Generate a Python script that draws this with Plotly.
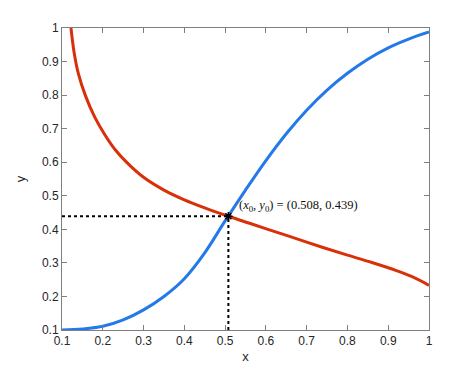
import plotly.graph_objects as go

# Blue curve (increasing)
blue_x = [0.1, 0.15, 0.2, 0.25, 0.3, 0.35, 0.4, 0.45, 0.5, 0.55, 0.6, 0.65, 0.7, 0.75, 0.8, 0.85, 0.9, 0.95, 1.0]
blue_y = [0.1, 0.103, 0.111, 0.13, 0.16, 0.2, 0.253, 0.33, 0.425, 0.517, 0.605, 0.685, 0.755, 0.815, 0.865, 0.907, 0.941, 0.967, 0.988]

# Red curve (decreasing)
red_x = [0.122, 0.13, 0.14, 0.157, 0.18, 0.205, 0.23, 0.26, 0.3, 0.35, 0.4, 0.45, 0.508,
         0.56, 0.62, 0.68, 0.74, 0.8, 0.86, 0.92, 0.96, 1.0]
red_y = [1.0, 0.925, 0.865, 0.8, 0.735, 0.682, 0.638, 0.598, 0.555, 0.517, 0.488, 0.464, 0.439,
         0.418, 0.394, 0.370, 0.346, 0.323, 0.301, 0.277, 0.258, 0.233]

# Intersection point
x0 = 0.508
y0 = 0.439
axis_min = 0.1

tick_vals = [0.1, 0.2, 0.3, 0.4, 0.5, 0.6, 0.7, 0.8, 0.9, 1.0]
tick_text = ["0.1", "0.2", "0.3", "0.4", "0.5", "0.6", "0.7", "0.8", "0.9", "1"]

fig = go.Figure()
fig.add_trace(go.Scatter(x=red_x, y=red_y, mode="lines", line=dict(color="#D8300A", width=3, shape="spline", smoothing=1.0)))
fig.add_trace(go.Scatter(x=blue_x, y=blue_y, mode="lines", line=dict(color="#2479E8", width=3, shape="spline", smoothing=1.0)))
fig.add_trace(go.Scatter(x=[axis_min, x0], y=[y0, y0], mode="lines", line=dict(color="black", width=2, dash="dot")))
fig.add_trace(go.Scatter(x=[x0, x0], y=[axis_min, y0], mode="lines", line=dict(color="black", width=2, dash="dot")))
fig.add_trace(go.Scatter(x=[x0], y=[y0], mode="markers", marker=dict(symbol="asterisk-open", size=7, color="black", line=dict(color="black", width=1.5))))

fig.add_annotation(x=x0, y=y0, xref="x", yref="y",
                   text="(<i>x</i><sub>0</sub>, <i>y</i><sub>0</sub>) = (0.508, 0.439)",
                   showarrow=False, xanchor="left", yanchor="middle", xshift=9, yshift=10,
                   font=dict(family="Liberation Serif, DejaVu Serif, serif", size=12.5, color="#111111"))

axis_common = dict(range=[0.1, 1.0], tickvals=tick_vals, ticktext=tick_text,
                   showgrid=False, zeroline=False, showline=True, linecolor="#7f7f7f", linewidth=1,
                   mirror="ticks", ticks="inside", ticklen=5, tickcolor="#7f7f7f",
                   tickfont=dict(family="Liberation Sans, Arial, sans-serif", size=12, color="#262626"))

fig.update_layout(
    width=474, height=371,
    margin=dict(l=54, r=53, t=20, b=49),
    paper_bgcolor="white", plot_bgcolor="white",
    showlegend=False,
    xaxis=dict(**axis_common, title=dict(text="x", standoff=4, font=dict(family="Liberation Sans, Arial, sans-serif", size=13, color="#262626"))),
    yaxis=dict(**axis_common, title=dict(text="y", standoff=13, font=dict(family="Liberation Sans, Arial, sans-serif", size=13, color="#262626"))),
)

fig.write_html("out.html")
